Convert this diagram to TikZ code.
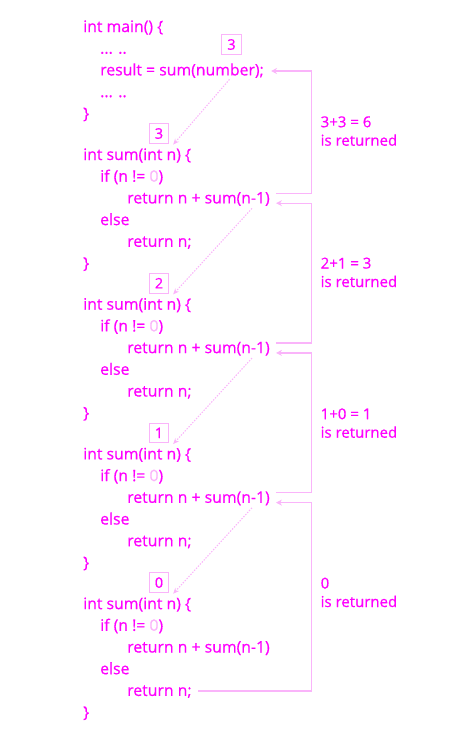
\documentclass[tikz,border=0pt]{standalone}
\usepackage{fontspec}
\setmainfont{Open Sans}[BoldFont={Open Sans}, BoldFeatures={FakeBold=0.6}]
\usetikzlibrary{arrows.meta, positioning, calc}
\definecolor{codepink}{HTML}{FF00FF}
\definecolor{linkpink}{HTML}{FAB4FA}

\tikzset{
  code/.style={anchor=base west, inner sep=0pt, text=codepink, font=\fontsize{15.8}{18}\selectfont\bfseries},
  note/.style={anchor=base west, inner sep=0pt, text=codepink, align=left, font=\fontsize{15}{18.5}\selectfont\bfseries},
  argbox/.style={draw=linkpink, line width=0.8pt, text=codepink, minimum size=19.5pt, inner sep=0pt, font=\fontsize{14.5}{16}\selectfont\bfseries},
  retline/.style={draw=linkpink, line width=1.3pt, -{Stealth[length=6pt, width=6pt]}},
  callline/.style={draw=linkpink, line width=1.1pt, dash pattern=on 1.4pt off 1.4pt, -{Stealth[length=6pt, width=5pt]}}
}

\begin{document}
\begin{tikzpicture}[x=1pt, y=-1pt]
\useasboundingbox (0,0) rectangle (448,734);

% main()
\node[code] (m1) at (83,32) {int main() \{};
\node[code] (m2) at (100,53.7) {... ..};
\node[code] (m3) at (100,75.4) {result = sum(number);};
\node[code] (m4) at (100,97.1) {... ..};
\node[code] (m5) at (83,118.8) {\}};
\node[argbox] (b0) at (231.5,44.5) {3};
\coordinate (rail) at (311.5,0);

% the four calls of sum()
\foreach \k/\n in {1/3, 2/2, 3/1, 4/0} {
  \pgfmathsetmacro{\y}{160+149.7*(\k-1)}
  \node[argbox] (b\k) at (159,\y-26.5) {\n};
  \node[code] (h\k) at (83,\y) {int sum(int n) \{};
  \node[code] (i\k) at (100,\y+21.7) {if (n != \textcolor{linkpink}{0})};
  \node[code] (r\k) at (127,\y+43.4) {return n + sum(n-1)};
  \node[code] (e\k) at (100,\y+65.1) {else};
  \node[code] (z\k) at (127,\y+86.8) {return n;};
  \node[code] (c\k) at (83,\y+108.5) {\}};
}

% calls going down
\draw[callline] ([shift={(-2pt,-4pt)}]b0.south |- m3.base) -- ([shift={(4pt,-1pt)}]b1.south east);
\draw[callline] ([shift={(-18pt,-5pt)}]r1.base east) -- ([shift={(4pt,-1pt)}]b2.south east);
\draw[callline] ([shift={(-18pt,-5pt)}]r2.base east) -- ([shift={(4pt,-1pt)}]b3.south east);
\draw[callline] ([shift={(-18pt,-5pt)}]r3.base east) -- ([shift={(4pt,-1pt)}]b4.south east);

% values going back up
\coordinate (t0) at ([shift={(7pt,4.4pt)}]m3.base east);
\coordinate (f1) at ([shift={(6pt,10.2pt)}]r1.base east);
\coordinate (t1) at ([shift={(6pt,0.2pt)}]r1.base east);
\coordinate (f2) at ([shift={(6pt,10.2pt)}]r2.base east);
\coordinate (t2) at ([shift={(6pt,0.2pt)}]r2.base east);
\coordinate (f3) at ([shift={(6pt,10.2pt)}]r3.base east);
\coordinate (t3) at ([shift={(6pt,0.2pt)}]r3.base east);
\coordinate (f4) at ([shift={(6pt,5pt)}]z4.base east);
\draw[retline] (f1) -- (f1 -| rail) |- (t0);
\draw[retline] (f2) -- (f2 -| rail) |- (t1);
\draw[retline] (f3) -- (f3 -| rail) |- (t2);
\draw[retline] (f4) -- (f4 -| rail) |- (t3);

\node[note] (n1) at (320.5,145.7) {3+3 = 6\\is returned};
\node[note] (n2) at (320.5,287) {2+1 = 3\\is returned};
\node[note] (n3) at (320.5,437.7) {1+0 = 1\\is returned};
\node[note] (n4) at (320.5,607) {0\\is returned};
\end{tikzpicture}
\end{document}
